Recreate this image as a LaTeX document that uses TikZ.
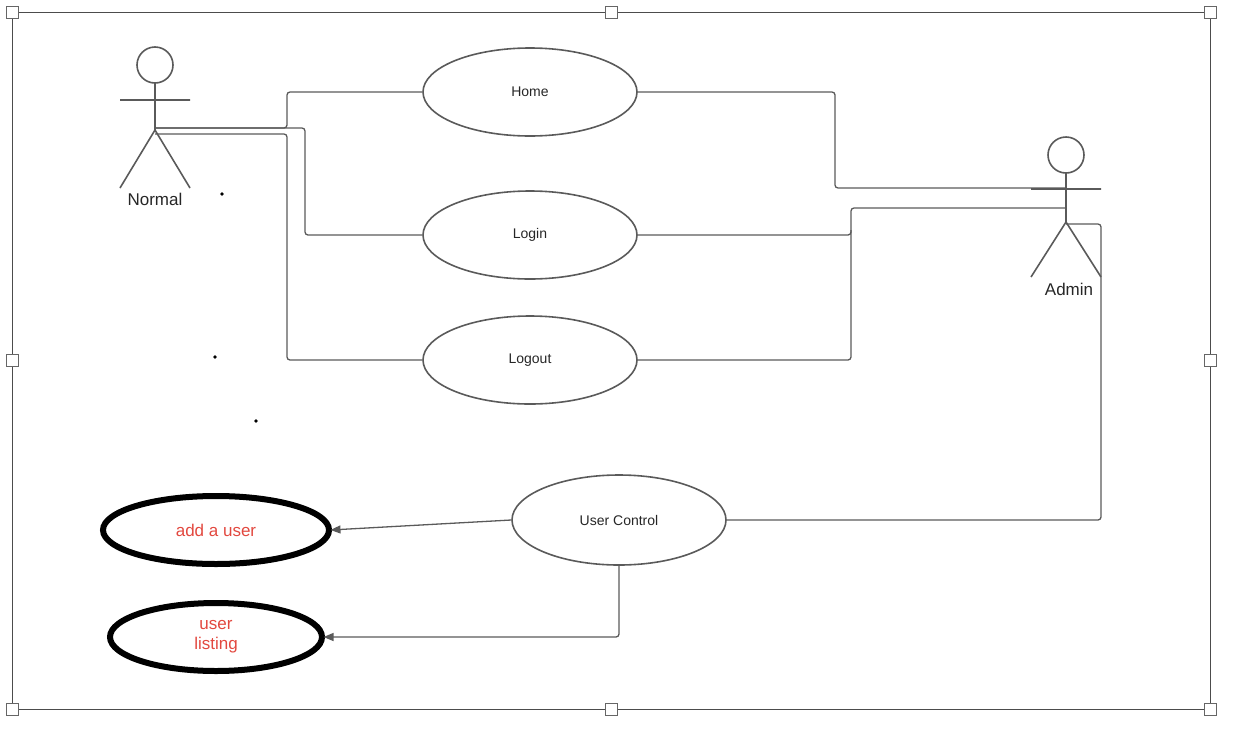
\documentclass[tikz,border=0pt]{standalone}
\usepackage{fontspec}
\setmainfont{Liberation Sans}
\usetikzlibrary{arrows.meta,shapes.geometric}
\definecolor{ln}{HTML}{5A5A5A}
\definecolor{rd}{HTML}{E2483F}
\begin{document}
\begin{tikzpicture}[x=1pt,y=-1pt,
  uc/.style={draw=ln,line width=1.6pt,ellipse,minimum width=214pt,minimum height=88pt,font=\fontsize{14}{16}\selectfont,text=black!85},
  red/.style={ellipse,draw=black,line width=3pt,double=white,double distance=0pt,font=\fontsize{17}{20}\selectfont,text=rd,align=center},
  con/.style={draw=ln,line width=1.3pt,rounded corners=3pt},
  arr/.style={con,-{Triangle[length=10pt,width=8pt]}},
  act/.style={draw=ln,line width=1.6pt},
  hd/.style={fill=white,draw=black!60,line width=0.6pt}]
\useasboundingbox (0,0) rectangle (1238,734);
\draw[black!70,line width=0.8pt] (12,12) rectangle (1210,709);
\foreach \p/\q in {12/12,611/12,1210/12,12/360,1210/360,12/709,611/709,1210/709}
  \node[hd,minimum size=12pt,inner sep=0pt] (h\p-\q) at (\p,\q) {};
% actors
\draw[act] (155,65) circle (18);
\draw[act] (155,83)--(155,130) (120,100)--(190,100) (155,130)--(120,188) (155,130)--(190,188);
\node[font=\fontsize{17}{20}\selectfont,text=black!85] (normal) at (155,199) {Normal};
\draw[act] (1066,155) circle (18);
\draw[act] (1066,173)--(1066,222) (1031,189)--(1101,189) (1066,222)--(1031,277) (1066,222)--(1101,277);
\node[font=\fontsize{17}{20}\selectfont,text=black!85] (admin) at (1069,289) {Admin};
\coordinate (na) at (155,128); \coordinate (nb) at (155,134);
\coordinate (aa) at (1066,188); \coordinate (ab) at (1066,208); \coordinate (ac) at (1066,224);
% use cases
\node[uc] (home) at (530,92) {Home};
\node[uc] (login) at (530,235) {Login};
\node[uc] (logout) at (530,360) {Logout};
\node[uc,minimum height=90pt] (uctl) at (619,520) {User Control};
\node[red,minimum width=226pt,minimum height=68pt] (add) at (216,530) {add a user};
\node[red,minimum width=212pt,minimum height=68pt,inner sep=0pt] (list) at (216,637) {user\\listing};
% connectors
\draw[con] (na) -- (287,128) -- (287,92) -- (home.west);
\draw[con] (na) -- (305,128) -- (305,235) -- (login.west);
\draw[con] (nb) -- (287,134) -- (287,360) -- (logout.west);
\draw[con] (home.east) -- (835,92) -- (835,188) -- (aa);
\draw[con] (login.east) -- (851,235) -- (851,208) -- (ab);
\draw[con] (logout.east) -- (851,360) -- (851,230);
\draw[con] (ac) -- (1101,224) -- (1101,520) -- (uctl.east);
\draw[arr] (uctl.west) -- (add.east);
\draw[arr] (uctl.south) -- (619,637) -- (list.east);
% dots
\fill (222,194) circle (1.8) (215,357) circle (1.8) (256,421) circle (1.8);
\end{tikzpicture}
\end{document}
